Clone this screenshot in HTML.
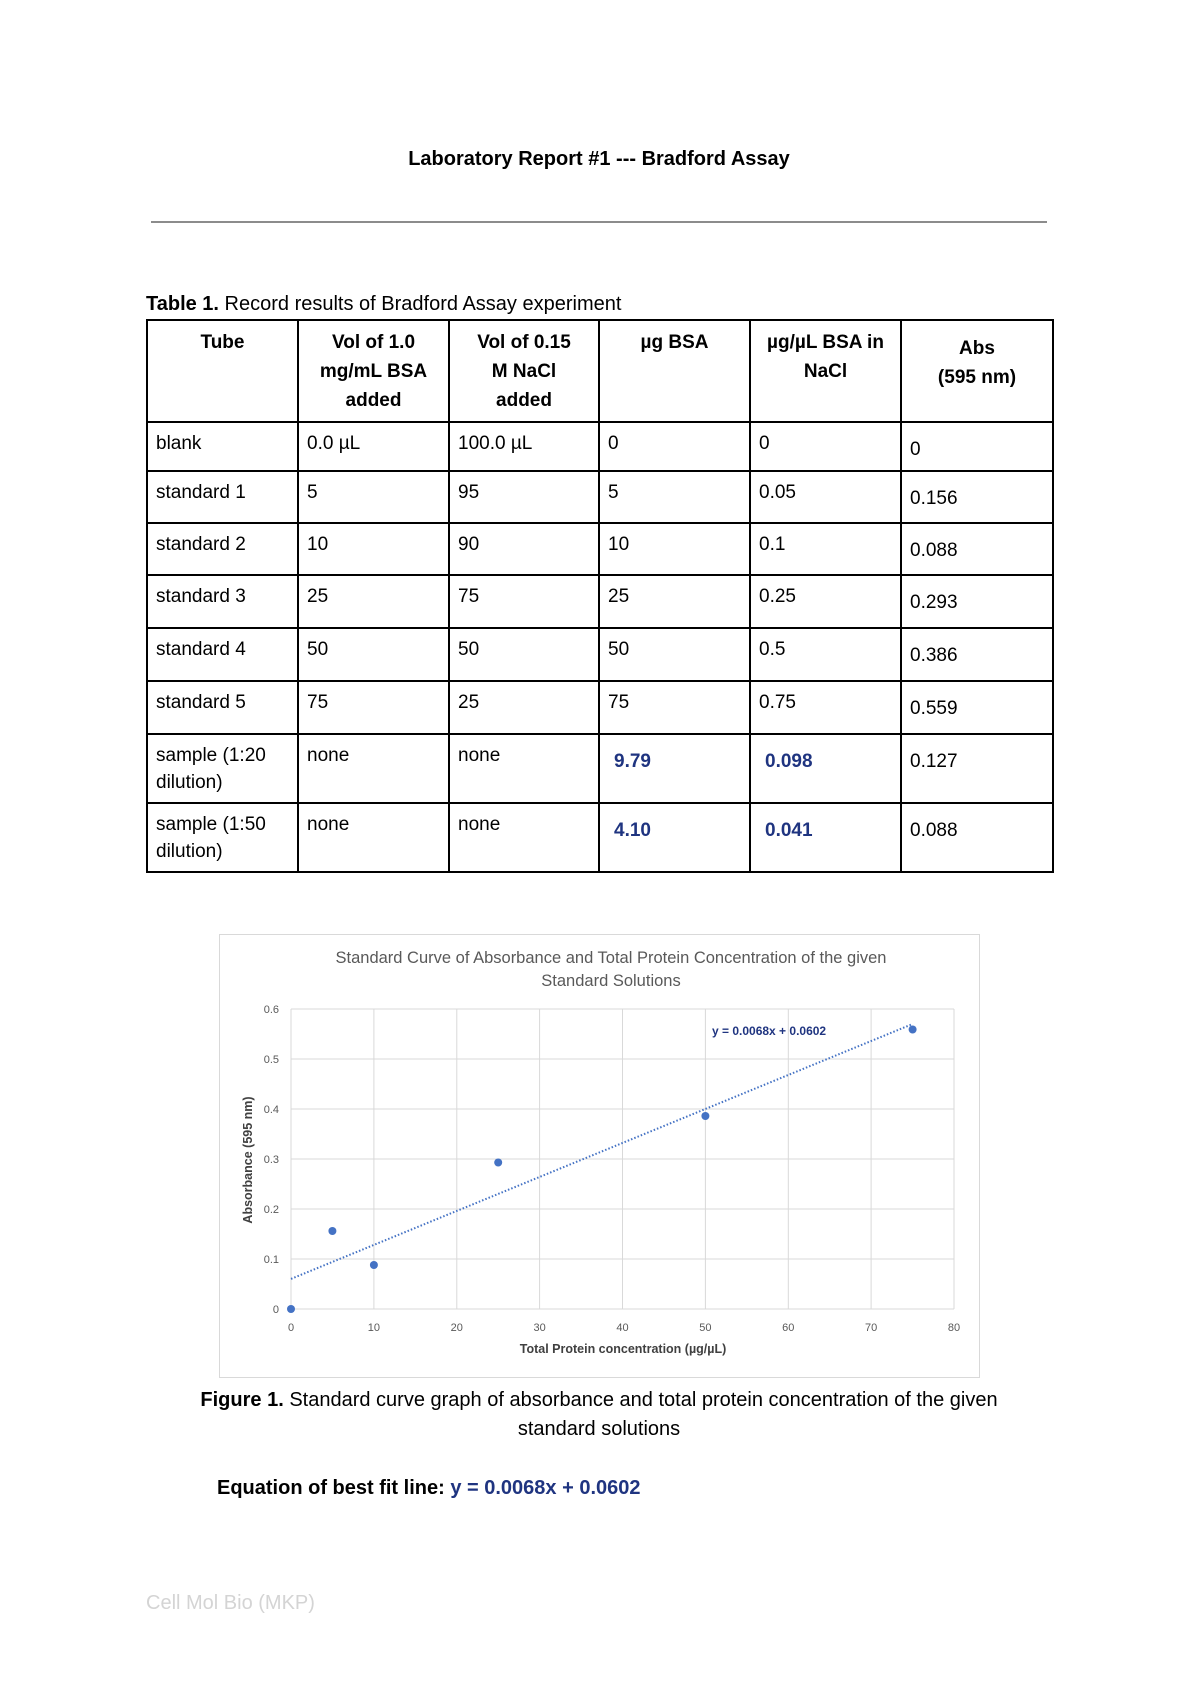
<!DOCTYPE html>
<html><head><meta charset="utf-8"><style>
body{margin:0;background:#fff;}
#p{position:relative;width:1200px;height:1694px;overflow:hidden;font-family:"Liberation Sans",sans-serif;color:#000;}
.a{position:absolute;white-space:nowrap;}
table{position:absolute;left:146px;top:319px;border-collapse:collapse;font-size:19px;}
td{border:2.5px solid #000;vertical-align:top;padding:7px 8px 0 8px;line-height:27px;}
th{border:2.5px solid #000;vertical-align:top;padding:7px 2px 0 2px;line-height:29px;font-weight:bold;font-size:19px;text-align:center;}
.b{color:#1f3480;font-weight:bold;padding-top:13px;padding-left:14px}
.ab{padding-top:13px}
</style></head><body><div id="p">
<div class="a" style="left:0;width:1198px;text-align:center;top:148px;font-size:20px;font-weight:bold;">Laboratory Report #1 --- Bradford Assay</div>
<div class="a" style="left:151px;width:896px;top:221px;height:2px;background:#8c8c8c;"></div>
<div class="a" style="left:146px;top:293px;font-size:20px;"><b>Table 1.</b> Record results of Bradford Assay experiment</div>
<table>
<colgroup><col style="width:151px"><col style="width:151px"><col style="width:150px"><col style="width:151px"><col style="width:151px"><col style="width:152px"></colgroup>
<tr style="height:102px"><th>Tube</th><th>Vol of 1.0<br>mg/mL BSA<br>added</th><th>Vol of 0.15<br>M NaCl<br>added</th><th>µg BSA</th><th>µg/µL BSA in<br>NaCl</th><th style="padding-top:13px">Abs<br>(595 nm)</th></tr>
<tr style="height:49px"><td>blank</td><td>0.0 µL</td><td>100.0 µL</td><td>0</td><td>0</td><td class="ab">0</td></tr>
<tr style="height:52px"><td>standard 1</td><td>5</td><td>95</td><td>5</td><td>0.05</td><td class="ab">0.156</td></tr>
<tr style="height:52px"><td>standard 2</td><td>10</td><td>90</td><td>10</td><td>0.1</td><td class="ab">0.088</td></tr>
<tr style="height:53px"><td>standard 3</td><td>25</td><td>75</td><td>25</td><td>0.25</td><td class="ab">0.293</td></tr>
<tr style="height:53px"><td>standard 4</td><td>50</td><td>50</td><td>50</td><td>0.5</td><td class="ab">0.386</td></tr>
<tr style="height:53px"><td>standard 5</td><td>75</td><td>25</td><td>75</td><td>0.75</td><td class="ab">0.559</td></tr>
<tr style="height:69px"><td>sample (1:20<br>dilution)</td><td>none</td><td>none</td><td class="b">9.79</td><td class="b">0.098</td><td class="ab">0.127</td></tr>
<tr style="height:69px"><td>sample (1:50<br>dilution)</td><td>none</td><td>none</td><td class="b">4.10</td><td class="b">0.041</td><td class="ab">0.088</td></tr>
</table>
<svg class="a" style="left:0;top:0" width="1200" height="1694" font-family="Liberation Sans, sans-serif">
<rect x="219.5" y="934.5" width="760" height="443" fill="#fff" stroke="#d9d9d9"/>
<text x="611" y="963" font-size="16.5" fill="#595959" text-anchor="middle">Standard Curve of Absorbance and Total Protein  Concentration of the given</text>
<text x="611" y="986" font-size="16.5" fill="#595959" text-anchor="middle">Standard Solutions</text>
<g stroke="#d9d9d9" stroke-width="1">
<line x1="291" y1="1009" x2="954" y2="1009"/><line x1="291" y1="1059" x2="954" y2="1059"/><line x1="291" y1="1109" x2="954" y2="1109"/><line x1="291" y1="1159" x2="954" y2="1159"/><line x1="291" y1="1209" x2="954" y2="1209"/><line x1="291" y1="1259" x2="954" y2="1259"/><line x1="291" y1="1309" x2="954" y2="1309"/>
<line x1="291" y1="1009" x2="291" y2="1309"/><line x1="373.9" y1="1009" x2="373.9" y2="1309"/><line x1="456.8" y1="1009" x2="456.8" y2="1309"/><line x1="539.6" y1="1009" x2="539.6" y2="1309"/><line x1="622.5" y1="1009" x2="622.5" y2="1309"/><line x1="705.4" y1="1009" x2="705.4" y2="1309"/><line x1="788.3" y1="1009" x2="788.3" y2="1309"/><line x1="871.1" y1="1009" x2="871.1" y2="1309"/><line x1="954" y1="1009" x2="954" y2="1309"/>
</g>
<g font-size="11" fill="#595959" text-anchor="end">
<text x="279" y="1013">0.6</text><text x="279" y="1063">0.5</text><text x="279" y="1113">0.4</text><text x="279" y="1163">0.3</text><text x="279" y="1213">0.2</text><text x="279" y="1263">0.1</text><text x="279" y="1313">0</text>
</g>
<g font-size="11" fill="#595959" text-anchor="middle">
<text x="291" y="1331">0</text><text x="373.9" y="1331">10</text><text x="456.8" y="1331">20</text><text x="539.6" y="1331">30</text><text x="622.5" y="1331">40</text><text x="705.4" y="1331">50</text><text x="788.3" y="1331">60</text><text x="871.1" y="1331">70</text><text x="954" y="1331">80</text>
</g>
<text x="623" y="1353" font-size="12.5" font-weight="bold" fill="#404040" text-anchor="middle">Total Protein concentration (µg/µL)</text>
<text transform="translate(252,1160) rotate(-90)" font-size="12.5" font-weight="bold" fill="#404040" text-anchor="middle">Absorbance (595 nm)</text>
<line x1="291" y1="1278.9" x2="912.6" y2="1024" stroke="#4472c4" stroke-width="2" stroke-dasharray="1.5 2"/>
<g fill="#4472c4">
<circle cx="291" cy="1309" r="4"/><circle cx="332.4" cy="1231" r="4"/><circle cx="373.9" cy="1265" r="4"/><circle cx="498.2" cy="1162.5" r="4"/><circle cx="705.4" cy="1116" r="4"/><circle cx="912.6" cy="1029.5" r="4"/>
</g>
<text x="712" y="1035" font-size="12" font-weight="bold" fill="#1f3480">y = 0.0068x + 0.0602</text>
</svg>
<div class="a" style="left:0;width:1198px;text-align:center;top:1386px;font-size:20px;line-height:29px;"><b>Figure 1.</b> Standard curve graph of absorbance and total protein concentration of the given<br>standard solutions</div>
<div class="a" style="left:217px;top:1477px;font-size:20px;font-weight:bold;">Equation of best fit line: <span style="color:#1f3480">y = 0.0068x + 0.0602</span></div>
<div class="a" style="left:146px;top:1592px;font-size:20px;color:#d4d4d4;">Cell Mol Bio (MKP)</div>
</div></body></html>
